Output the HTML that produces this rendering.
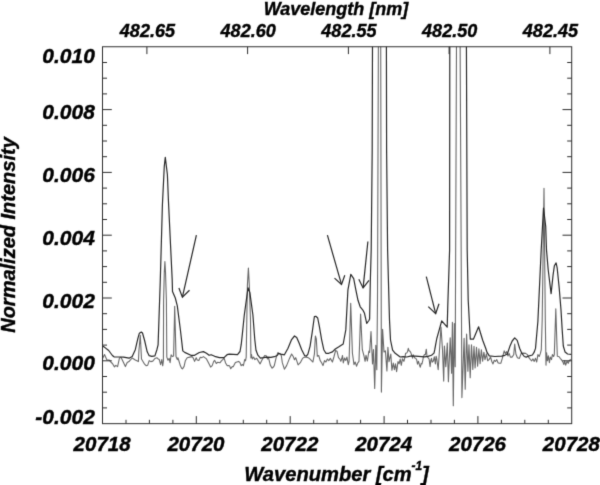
<!DOCTYPE html>
<html><head><meta charset="utf-8"><title>Spectrum</title>
<style>
html,body{margin:0;padding:0;background:#fff;}
body{width:600px;height:485px;overflow:hidden;}
svg{display:block;}
text{font-family:"Liberation Sans",Arial,Helvetica,sans-serif;font-weight:bold;font-style:italic;fill:#000;stroke:#000;stroke-width:0.38px;}
</style></head>
<body>
<svg width="600" height="485" viewBox="0 0 600 485">
<defs><clipPath id="pc"><rect x="102.5" y="46.75" width="469.2" height="376.9"/></clipPath>
<filter id="soft" color-interpolation-filters="sRGB" x="0" y="0" width="600" height="485" filterUnits="userSpaceOnUse"><feConvolveMatrix order="3" kernelMatrix="0.0144 0.0912 0.0144 0.0912 0.5776 0.0912 0.0144 0.0912 0.0144" edgeMode="duplicate" preserveAlpha="false"/></filter></defs>
<g filter="url(#soft)">
<rect width="600" height="485" fill="#fff"/>
<g clip-path="url(#pc)" fill="none" stroke-linejoin="round">
<polyline points="102.6,358.5 104.5,354.5 106.8,359.8 109.3,360.1 110.8,362.0 112.4,363.5 114.5,366.9 115.8,365.4 117.6,366.6 119.5,357.9 121.0,357.3 125.4,366.6 127.2,362.6 129.0,361.6 130.0,360.4 132.2,358.0 135.3,360.0 138.4,361.6 138.9,350.8 140.3,335.3 141.5,359.0 144.6,364.2 146.1,365.7 147.7,365.2 149.2,360.6 150.8,361.6 152.8,361.1 154.9,358.5 156.9,357.7 158.1,359.0 159.3,359.6 160.6,364.6 161.8,359.6 162.7,365.8 163.4,361.0 163.6,300.0 164.3,272.0 164.9,261.5 165.5,272.0 166.4,300.0 166.8,357.1 168.0,360.2 169.2,358.4 170.1,362.7 171.1,354.7 172.3,356.5 173.6,355.9 174.7,306.3 176.0,356.5 177.3,359.6 177.9,357.7 179.1,361.5 180.4,365.8 181.6,368.3 182.5,368.9 184.1,366.4 185.3,360.8 187.2,357.7 189.7,357.1 192.1,356.6 193.1,357.8 194.6,361.4 196.2,357.8 197.2,359.9 198.8,360.4 200.3,357.3 201.9,357.6 203.4,356.6 206.5,358.9 208.6,363.0 210.6,367.1 212.2,365.6 213.7,361.4 214.7,360.4 216.3,363.5 217.8,362.2 219.9,362.8 221.4,360.9 223.0,359.4 224.0,357.8 225.6,363.0 227.1,365.6 228.7,365.6 229.7,366.1 230.7,368.7 232.3,366.6 233.3,366.6 235.4,362.5 236.9,362.0 238.7,361.4 240.0,362.6 241.2,365.7 242.4,364.5 243.4,365.7 244.7,359.6 245.5,360.8 246.2,357.1 246.8,320.0 247.4,285.0 248.4,268.0 249.3,285.0 250.5,320.0 250.9,358.0 251.5,354.6 252.3,358.9 253.6,357.1 254.8,359.6 256.7,358.3 258.5,361.4 260.1,363.9 261.6,360.8 263.2,357.7 264.7,355.6 266.2,355.8 267.4,358.9 268.7,358.3 270.3,365.1 272.1,368.2 273.4,367.0 274.3,365.6 276.5,356.2 277.9,352.6 280.1,354.1 281.3,355.5 282.3,362.7 284.4,369.2 286.6,365.6 289.5,358.4 291.6,354.1 293.1,356.2 294.5,359.8 295.7,357.7 296.7,360.6 298.1,364.9 300.3,362.7 302.5,358.4 304.6,357.0 306.8,357.2 308.2,357.7 309.3,358.4 311.5,360.6 312.9,362.0 314.4,354.1 315.4,336.0 316.3,338.9 317.3,356.2 318.7,355.5 320.2,360.6 321.6,362.7 323.0,365.6 324.5,360.6 325.9,362.0 327.4,359.1 328.8,360.6 330.3,358.4 332.4,362.0 333.9,357.0 335.6,350.5 337.0,351.2 338.5,357.7 339.9,359.1 340.8,361.3 341.7,358.8 342.5,355.5 343.3,362.9 344.6,358.0 345.8,360.4 346.9,357.1 348.3,364.6 349.1,361.3 350.7,303.2 352.4,353.0 354.0,364.6 355.2,362.1 356.5,366.2 357.8,362.9 359.0,361.3 360.6,314.0 362.3,349.7 363.9,355.5 365.1,361.3 366.0,355.3 367.4,361.0 368.9,351.0 369.6,352.4 371.0,331.5 372.5,364.0 373.5,349.5 374.7,388.5 375.8,345.2 376.8,369.7 377.5,300.0 378.4,40.0 380.7,40.0 381.4,392.1 382.6,329.3 384.0,352.0 385.4,350.8 386.9,371.0 387.9,347.2 389.0,361.6 390.8,354.1 391.9,370.3 393.3,363.1 394.4,369.6 395.5,363.8 396.6,371.7 398.0,361.6 399.1,363.8 400.2,359.1 401.3,365.3 402.4,358.8 403.9,361.3 404.9,357.3 405.6,353.3 406.7,353.0 407.5,351.8 408.3,348.3 409.1,350.8 409.8,351.1 410.7,352.4 411.7,355.2 412.6,358.2 413.2,354.8 413.8,356.1 414.8,357.9 415.7,358.2 416.7,359.8 417.5,364.1 418.5,361.3 419.4,364.7 420.3,367.2 421.2,363.5 421.9,364.0 422.8,360.4 423.5,356.2 424.5,354.5 425.3,354.8 426.3,349.2 427.0,356.2 428.0,357.6 429.1,359.0 430.1,366.8 430.8,360.4 431.5,358.3 432.2,362.2 433.3,361.1 434.3,356.9 435.4,364.0 436.1,356.2 436.8,359.0 438.2,369.6 441.0,327.0 442.5,350.0 443.7,381.1 444.4,346.0 445.8,366.7 447.3,343.0 448.4,381.8 450.2,337.7 451.6,373.2 452.4,322.3 453.3,405.7 454.3,323.5 455.2,366.7 456.5,40.0 460.1,40.0 461.9,397.6 464.1,338.2 465.2,389.3 466.6,334.0 467.9,371.2 469.0,344.8 470.2,377.8 471.5,344.8 472.8,369.5 474.0,346.4 475.1,367.9 476.5,347.2 477.6,366.2 478.9,348.9 480.1,363.7 481.4,349.7 482.6,361.3 483.9,352.2 485.0,359.6 486.4,353.8 487.7,360.8 489.0,359.6 490.6,357.1 491.8,361.5 493.0,363.9 494.3,360.2 495.5,361.5 496.8,359.6 498.0,362.7 499.2,363.3 500.8,363.3 502.3,358.4 504.2,350.9 505.4,353.4 506.7,351.6 507.9,355.9 509.1,353.4 510.4,357.1 512.0,357.1 513.7,354.7 514.7,344.1 515.9,354.0 517.4,357.7 519.4,358.4 521.2,353.4 523.1,353.1 525.6,353.4 527.4,354.6 528.9,357.7 530.5,359.6 531.7,360.8 533.0,358.9 534.2,361.4 535.5,358.3 536.7,362.0 537.9,354.6 539.2,356.5 540.4,353.4 541.3,349.7 542.2,320.0 544.0,188.3 545.3,320.0 546.0,365.1 546.6,352.8 547.4,360.8 548.4,355.8 549.4,362.6 550.3,357.1 551.5,359.6 552.4,354.6 553.6,356.5 554.3,354.5 555.8,308.9 557.3,356.3 558.9,356.5 560.2,358.3 561.4,359.6 562.6,361.4 563.9,364.5 564.7,360.8 565.7,365.1 567.0,361.4 568.2,363.3 569.4,360.2 571.3,359.6" stroke="#686868" stroke-width="1.1"/>
<polyline points="102.5,345.9 105.0,347.6 108.7,350.5 112.4,355.5 114.0,356.8 120.4,357.0 123.5,357.2 129.1,358.2 132.2,356.4 135.3,349.7 137.9,338.4 139.4,333.2 141.3,332.0 142.5,333.0 144.6,340.5 147.2,351.8 149.2,355.7 151.8,356.4 154.9,355.9 156.9,349.7 158.1,344.8 160.3,280.0 162.4,205.0 164.3,166.0 165.3,157.4 167.4,174.8 168.4,200.0 172.2,280.0 172.5,291.5 175.3,298.0 177.3,305.8 180.4,330.0 182.8,350.9 184.7,352.4 190.9,355.3 194.6,355.3 199.3,352.5 203.4,351.6 206.5,353.2 209.1,355.3 211.1,354.7 214.7,356.3 219.4,357.6 224.0,357.6 227.1,354.7 229.2,354.2 237.5,354.6 240.0,351.5 241.2,344.7 242.4,333.6 244.3,315.0 248.0,287.8 249.9,292.8 252.9,315.0 254.8,339.8 256.0,350.3 257.9,355.2 260.4,358.1 263.5,357.7 267.2,357.1 270.9,357.3 274.3,356.7 277.2,355.5 278.7,353.3 280.8,354.1 284.4,354.8 288.0,348.3 291.6,339.6 294.5,336.0 296.7,337.5 298.9,342.5 301.7,349.7 304.6,355.5 306.4,356.2 307.9,354.1 310.1,346.1 312.2,332.4 314.4,316.5 315.8,316.3 317.7,318.0 319.4,326.6 321.6,339.6 323.8,349.7 325.9,353.3 328.8,353.3 332.4,351.9 335.3,349.0 338.9,346.8 343.2,344.0 345.8,329.9 347.9,290.2 350.8,274.3 353.7,278.7 355.9,290.2 358.0,300.3 360.2,306.8 363.1,310.4 364.5,313.3 366.7,323.4 368.9,320.5 369.6,319.1 370.3,282.0 371.2,250.0 372.2,150.0 372.5,40.0 386.4,40.0 386.6,150.0 387.6,250.0 389.5,320.0 390.5,340.0 392.6,350.1 395.2,353.3 400.2,357.0 403.1,356.6 406.7,357.0 410.4,356.2 415.4,356.2 421.6,356.6 424.5,356.9 428.0,356.4 431.5,355.2 434.0,353.1 434.7,349.9 435.7,344.3 436.8,338.5 438.6,332.2 441.7,320.8 447.2,327.2 447.8,305.0 449.6,250.0 449.8,40.0 466.4,40.0 467.2,250.0 468.2,300.0 470.3,339.2 473.4,339.2 478.6,326.8 482.7,340.2 485.8,348.5 486.9,352.2 489.3,355.9 494.9,356.5 501.7,356.1 504.8,355.3 507.3,354.0 509.8,346.6 512.2,341.0 514.7,337.9 517.2,340.4 519.7,348.5 521.9,353.4 524.3,356.5 526.2,357.1 529.3,355.8 532.4,355.0 534.2,352.1 535.5,348.4 536.7,334.8 537.9,321.2 541.2,250.0 543.5,208.0 545.7,226.2 546.5,250.0 548.2,269.8 551.1,293.7 553.1,274.8 554.4,265.7 556.1,262.9 557.2,268.2 559.2,288.0 561.0,310.0 562.2,330.0 563.3,346.0 565.1,352.1 567.6,354.0 571.3,354.4" stroke="#282828" stroke-width="1.2"/>
</g>
<g stroke="#262626" stroke-width="1.2" fill="none"><polyline points="196.4,235.2 182.4,297.1"/><polyline points="178.9,288.0 182.4,297.1 189.5,290.2"/><polyline points="327.4,235.2 341.5,284.4"/><polyline points="334.5,278.1 341.5,284.4 344.8,275.3"/><polyline points="367.9,241.5 363.1,287.9"/><polyline points="358.8,279.3 363.1,287.9 369.0,280.3"/><polyline points="426.3,276.6 435.7,313.7"/><polyline points="428.3,306.6 435.7,313.7 439.0,303.8"/></g>
<g stroke="#2c2c2c" stroke-width="1.0"><line x1="126.0" y1="423.6" x2="126.0" y2="419.8"/><line x1="149.4" y1="423.6" x2="149.4" y2="419.8"/><line x1="172.9" y1="423.6" x2="172.9" y2="419.8"/><line x1="196.3" y1="423.6" x2="196.3" y2="416.1"/><line x1="219.8" y1="423.6" x2="219.8" y2="419.8"/><line x1="243.3" y1="423.6" x2="243.3" y2="419.8"/><line x1="266.7" y1="423.6" x2="266.7" y2="419.8"/><line x1="290.2" y1="423.6" x2="290.2" y2="416.1"/><line x1="313.7" y1="423.6" x2="313.7" y2="419.8"/><line x1="337.1" y1="423.6" x2="337.1" y2="419.8"/><line x1="360.6" y1="423.6" x2="360.6" y2="419.8"/><line x1="384.1" y1="423.6" x2="384.1" y2="416.1"/><line x1="407.5" y1="423.6" x2="407.5" y2="419.8"/><line x1="431.0" y1="423.6" x2="431.0" y2="419.8"/><line x1="454.4" y1="423.6" x2="454.4" y2="419.8"/><line x1="477.9" y1="423.6" x2="477.9" y2="416.1"/><line x1="501.4" y1="423.6" x2="501.4" y2="419.8"/><line x1="524.8" y1="423.6" x2="524.8" y2="419.8"/><line x1="548.3" y1="423.6" x2="548.3" y2="419.8"/><line x1="102.5" y1="407.9" x2="107.0" y2="407.9"/><line x1="571.8" y1="407.9" x2="567.2" y2="407.9"/><line x1="102.5" y1="392.2" x2="107.0" y2="392.2"/><line x1="571.8" y1="392.2" x2="567.2" y2="392.2"/><line x1="102.5" y1="376.5" x2="107.0" y2="376.5"/><line x1="571.8" y1="376.5" x2="567.2" y2="376.5"/><line x1="102.5" y1="360.8" x2="111.8" y2="360.8"/><line x1="571.8" y1="360.8" x2="562.5" y2="360.8"/><line x1="102.5" y1="345.1" x2="107.0" y2="345.1"/><line x1="571.8" y1="345.1" x2="567.2" y2="345.1"/><line x1="102.5" y1="329.4" x2="107.0" y2="329.4"/><line x1="571.8" y1="329.4" x2="567.2" y2="329.4"/><line x1="102.5" y1="313.7" x2="107.0" y2="313.7"/><line x1="571.8" y1="313.7" x2="567.2" y2="313.7"/><line x1="102.5" y1="298.0" x2="111.8" y2="298.0"/><line x1="571.8" y1="298.0" x2="562.5" y2="298.0"/><line x1="102.5" y1="282.3" x2="107.0" y2="282.3"/><line x1="571.8" y1="282.3" x2="567.2" y2="282.3"/><line x1="102.5" y1="266.6" x2="107.0" y2="266.6"/><line x1="571.8" y1="266.6" x2="567.2" y2="266.6"/><line x1="102.5" y1="250.9" x2="107.0" y2="250.9"/><line x1="571.8" y1="250.9" x2="567.2" y2="250.9"/><line x1="102.5" y1="235.2" x2="111.8" y2="235.2"/><line x1="571.8" y1="235.2" x2="562.5" y2="235.2"/><line x1="102.5" y1="219.5" x2="107.0" y2="219.5"/><line x1="571.8" y1="219.5" x2="567.2" y2="219.5"/><line x1="102.5" y1="203.8" x2="107.0" y2="203.8"/><line x1="571.8" y1="203.8" x2="567.2" y2="203.8"/><line x1="102.5" y1="188.1" x2="107.0" y2="188.1"/><line x1="571.8" y1="188.1" x2="567.2" y2="188.1"/><line x1="102.5" y1="172.4" x2="111.8" y2="172.4"/><line x1="571.8" y1="172.4" x2="562.5" y2="172.4"/><line x1="102.5" y1="156.7" x2="107.0" y2="156.7"/><line x1="571.8" y1="156.7" x2="567.2" y2="156.7"/><line x1="102.5" y1="141.0" x2="107.0" y2="141.0"/><line x1="571.8" y1="141.0" x2="567.2" y2="141.0"/><line x1="102.5" y1="125.3" x2="107.0" y2="125.3"/><line x1="571.8" y1="125.3" x2="567.2" y2="125.3"/><line x1="102.5" y1="109.6" x2="111.8" y2="109.6"/><line x1="571.8" y1="109.6" x2="562.5" y2="109.6"/><line x1="102.5" y1="93.9" x2="107.0" y2="93.9"/><line x1="571.8" y1="93.9" x2="567.2" y2="93.9"/><line x1="102.5" y1="78.2" x2="107.0" y2="78.2"/><line x1="571.8" y1="78.2" x2="567.2" y2="78.2"/><line x1="102.5" y1="62.5" x2="107.0" y2="62.5"/><line x1="571.8" y1="62.5" x2="567.2" y2="62.5"/><line x1="146.9" y1="46.8" x2="146.9" y2="54.1"/><line x1="247.6" y1="46.8" x2="247.6" y2="54.1"/><line x1="348.4" y1="46.8" x2="348.4" y2="54.1"/><line x1="449.1" y1="46.8" x2="449.1" y2="54.1"/><line x1="549.9" y1="46.8" x2="549.9" y2="54.1"/></g>
<rect x="102.5" y="46.75" width="469.2" height="376.9" fill="none" stroke="#2c2c2c" stroke-width="1.0"/>
<g><text x="94.90" y="62.72" text-anchor="end" font-size="21">0.010</text><text x="94.90" y="119.32" text-anchor="end" font-size="21">0.008</text><text x="94.90" y="182.32" text-anchor="end" font-size="21">0.006</text><text x="94.90" y="244.82" text-anchor="end" font-size="21">0.004</text><text x="94.90" y="307.52" text-anchor="end" font-size="21">0.002</text><text x="94.90" y="370.02" text-anchor="end" font-size="21">0.000</text><text x="94.90" y="423.82" text-anchor="end" font-size="21">-0.002</text><text x="102.10" y="451.34" text-anchor="middle" font-size="20.5">20718</text><text x="195.95" y="451.34" text-anchor="middle" font-size="20.5">20720</text><text x="289.80" y="451.34" text-anchor="middle" font-size="20.5">20722</text><text x="383.65" y="451.34" text-anchor="middle" font-size="20.5">20724</text><text x="477.50" y="451.34" text-anchor="middle" font-size="20.5">20726</text><text x="571.35" y="451.34" text-anchor="middle" font-size="20.5">20728</text><text x="147.40" y="36.64" text-anchor="middle" font-size="18">482.65</text><text x="248.15" y="36.64" text-anchor="middle" font-size="18">482.60</text><text x="348.90" y="36.64" text-anchor="middle" font-size="18">482.55</text><text x="449.65" y="36.64" text-anchor="middle" font-size="18">482.50</text><text x="550.40" y="36.64" text-anchor="middle" font-size="18">482.45</text></g>
<text x="336.00" y="14.70" text-anchor="middle" font-size="18">Wavelength [nm]</text>
<text x="244.20" y="481.00" font-size="20.15">Wavenumber [cm</text><text x="411.60" y="469.60" font-size="12">-1</text><text x="422.00" y="481.00" font-size="20.15">]</text>
<text transform="translate(15.2,235) rotate(-90) translate(0.00,0.00)" text-anchor="middle" font-size="20">Normalized Intensity</text>
</g>
</svg>
</body></html>
